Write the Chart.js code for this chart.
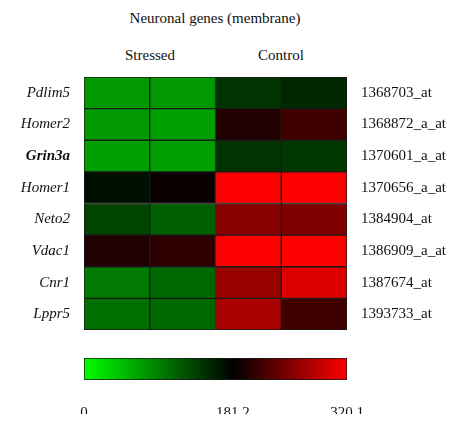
<!DOCTYPE html>
<html>
<head>
<meta charset="utf-8">
<script src="https://cdn.jsdelivr.net/npm/chart.js@4.4.0/dist/chart.umd.min.js"></script>
<style>
  body { margin: 0; background: #fff; font-family: "Liberation Serif", serif; }
  #wrap { position: relative; width: 474px; height: 423px; }
  .lbl { position: absolute; font-size: 15px; color: #111; white-space: nowrap; transform: translateX(-50%); }
  canvas { position: absolute; left: 0; }
</style>
</head>
<body>
<div id="wrap">
  <div class="lbl" style="left:215px; top:10px;">Neuronal genes (membrane)</div>
  <div class="lbl" style="left:150px; top:47px;">Stressed</div>
  <div class="lbl" style="left:281px; top:47px;">Control</div>
  <canvas id="heat" style="top:0" width="474" height="345"></canvas>
  <canvas id="scale" style="top:345px" width="474" height="78"></canvas>
</div>
<script>
const genes = ['Pdlim5', 'Homer2', 'Grin3a', 'Homer1', 'Neto2', 'Vdac1', 'Cnr1', 'Lppr5'];
const probes = ['1368703_at', '1368872_a_at', '1370601_a_at', '1370656_a_at', '1384904_at', '1386909_a_at', '1387674_at', '1393733_at'];
const samples = ['Stressed 1', 'Stressed 2', 'Control 1', 'Control 2'];
// values per sample column, one per gene
const stressed1 = [72.5, 71.8, 67.5, 169.8, 132.9, 198.6, 94.5, 101.6];
const stressed2 = [72.5, 67.5, 67.5, 186.6, 113.0, 207.3, 107.3, 107.3];
const control1 = [145.0, 198.6, 145.0, 320.1, 256.4, 320.1, 264.5, 273.8];
const control2 = [152.8, 216.1, 141.4, 320.1, 250.9, 320.1, 301.6, 216.1];
const scaleTicks = [0, 181.2, 320.1];

const VMIN = 0, VMID = 181.2, VMAX = 320.1;
function colorFor(v) {
  if (v <= VMID) {
    const g = Math.round(255 * (1 - (v - VMIN) / (VMID - VMIN)));
    return 'rgb(0,' + g + ',0)';
  }
  const r = Math.round(255 * (v - VMID) / (VMAX - VMID));
  return 'rgb(' + r + ',0,0)';
}

const columns = [stressed1, stressed2, control1, control2];
const font = { family: 'Liberation Serif', size: 15 };

new Chart(document.getElementById('heat'), {
  type: 'bar',
  data: {
    labels: genes,
    datasets: columns.map((col, i) => ({
      label: samples[i],
      data: col.map(() => 1),
      backgroundColor: col.map(colorFor),
      borderColor: '#1a1a1a',
      borderWidth: 1,
      borderSkipped: false,
      barPercentage: 1,
      categoryPercentage: 1
    }))
  },
  options: {
    indexAxis: 'y',
    responsive: false,
    animation: false,
    layout: { padding: { top: 77, bottom: 6 } },
    plugins: { legend: { display: false }, tooltip: { enabled: false } },
    scales: {
      x: { stacked: true, min: 0, max: 4, display: false },
      y: {
        stacked: true,
        position: 'left',
        grid: { display: false },
        border: { display: false },
        afterFit: s => { s.width = 84; },
        ticks: {
          color: '#111',
          padding: 6,
          font: ctx => ({ family: 'Liberation Serif', size: 15, style: 'italic',
                          weight: genes[ctx.index] === 'Grin3a' ? 'bold' : 'normal' })
        }
      },
      y2: {
        type: 'category',
        labels: probes,
        position: 'right',
        offset: true,
        grid: { display: false },
        border: { display: false },
        afterFit: s => { s.width = 127; },
        ticks: { color: '#111', padding: 6, font: font }
      }
    }
  }
});

new Chart(document.getElementById('scale'), {
  type: 'bar',
  data: {
    labels: ['scale'],
    datasets: [{
      data: [VMAX],
      borderColor: '#1a1a1a',
      borderWidth: 1,
      borderSkipped: false,
      barPercentage: 1,
      categoryPercentage: 1,
      backgroundColor: ctx => {
        const ca = ctx.chart.chartArea;
        if (!ca) return '#000';
        const g = ctx.chart.ctx.createLinearGradient(ca.left, 0, ca.right, 0);
        g.addColorStop(0, colorFor(VMIN));
        g.addColorStop((VMID - VMIN) / (VMAX - VMIN), colorFor(VMID));
        g.addColorStop(1, colorFor(VMAX));
        return g;
      }
    }]
  },
  options: {
    indexAxis: 'y',
    responsive: false,
    animation: false,
    layout: { padding: { left: 84, right: 127, top: 13, bottom: 9 } },
    plugins: { legend: { display: false }, tooltip: { enabled: false } },
    scales: {
      x: {
        min: VMIN, max: VMAX,
        grid: { display: false },
        border: { display: false },
        afterFit: s => { s.height = 34; },
        afterBuildTicks: s => { s.ticks = scaleTicks.map(v => ({ value: v })); },
        ticks: { color: '#111', padding: 16, font: font, maxRotation: 0,
                 callback: v => v === 0 ? '0' : v.toFixed(1) }
      },
      y: { display: false }
    }
  }
});
</script>
</body>
</html>
